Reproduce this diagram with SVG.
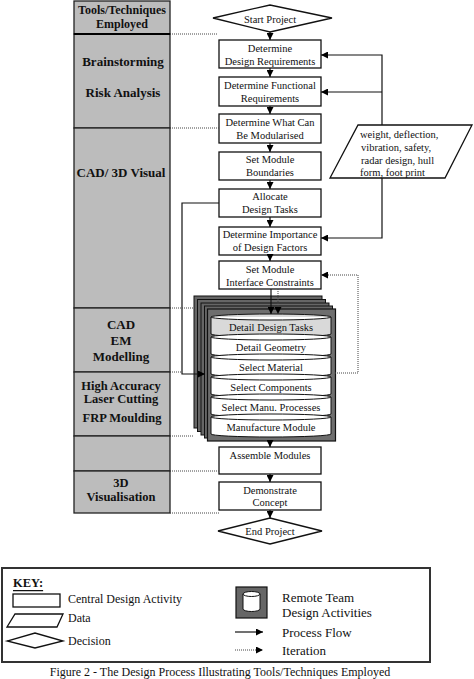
<svg xmlns="http://www.w3.org/2000/svg" width="474" height="679" viewBox="0 0 474 679" font-family="Liberation Serif, DejaVu Serif, serif">
<defs>
<marker id="ah" markerUnits="userSpaceOnUse" markerWidth="7" markerHeight="7" refX="7" refY="3.5" orient="auto"><path d="M0,0 L7,3.5 L0,7 Z" fill="#000"/></marker>
<style>
text{font-family:"Liberation Serif","DejaVu Serif",serif;fill:#111}
.t{font-size:10.5px;text-anchor:middle;dominant-baseline:central}
.b{font-weight:bold;text-anchor:middle;dominant-baseline:central}
.k{font-size:12px;dominant-baseline:central}
.k2{font-size:13px;dominant-baseline:central}
.box{fill:#fff;stroke:#111;stroke-width:1.3}
.col{fill:#bcbcbc;stroke:#222;stroke-width:1.3}
.ln{fill:none;stroke:#111;stroke-width:1.2}
.dot{fill:none;stroke:#444;stroke-width:1;stroke-dasharray:1,1}
.lay{fill:#666;stroke:#111;stroke-width:1}
.disk{fill:#fff;stroke:#111;stroke-width:1}
</style>
</defs>
<rect width="474" height="679" fill="#fff"/>

<g id="tools-column">
<rect class="col" x="74" y="1" width="96" height="33"/>
<rect class="col" x="74" y="34" width="96" height="94"/>
<rect class="col" x="74" y="128" width="96" height="180"/>
<rect class="col" x="74" y="308" width="96" height="64"/>
<rect class="col" x="74" y="372" width="96" height="64"/>
<rect class="col" x="74" y="436" width="96" height="35"/>
<rect class="col" x="74" y="471" width="96" height="42"/>
<line x1="74" y1="34" x2="170" y2="34" stroke="#000" stroke-width="2.2"/>
<text class="b" x="122" y="10" font-size="12">Tools/Techniques</text>
<text class="b" x="122" y="24" font-size="12">Employed</text>
<text class="b" x="123" y="61" font-size="13">Brainstorming</text>
<text class="b" x="123" y="92" font-size="13">Risk Analysis</text>
<text class="b" x="121" y="172" font-size="13">CAD/ 3D Visual</text>
<text class="b" x="121" y="324" font-size="13">CAD</text>
<text class="b" x="121" y="340" font-size="13">EM</text>
<text class="b" x="121" y="356" font-size="13">Modelling</text>
<text class="b" x="121" y="386" font-size="12.5">High Accuracy</text>
<text class="b" x="121" y="399" font-size="12.5">Laser Cutting</text>
<text class="b" x="122" y="418" font-size="12.5">FRP Moulding</text>
<text class="b" x="121" y="483" font-size="12.5">3D</text>
<text class="b" x="121" y="497" font-size="12.5">Visualisation</text>
</g>

<g id="start">
<polygon class="box" points="213,18 270,5 332,18 270,32"/>
<text class="t" x="270" y="19">Start Project</text>
</g>
<g id="n1"><rect class="box" x="219" y="40" width="102" height="28"/>
<text class="t" x="270" y="48">Determine</text><text class="t" x="270" y="61">Design Requirements</text></g>
<g id="n2"><rect class="box" x="219" y="77" width="102" height="29"/>
<text class="t" x="270" y="85">Determine Functional</text><text class="t" x="270" y="98">Requirements</text></g>
<g id="n3"><rect class="box" x="219" y="114" width="102" height="29"/>
<text class="t" x="270" y="122">Determine What Can</text><text class="t" x="270" y="135">Be Modularised</text></g>
<g id="n4"><rect class="box" x="219" y="152" width="102" height="28"/>
<text class="t" x="270" y="159">Set Module</text><text class="t" x="270" y="172">Boundaries</text></g>
<g id="n5"><rect class="box" x="219" y="189" width="102" height="28"/>
<text class="t" x="270" y="196">Allocate</text><text class="t" x="270" y="209">Design Tasks</text></g>
<g id="n6"><rect class="box" x="219" y="227" width="102" height="28"/>
<text class="t" x="270" y="234">Determine Importance</text><text class="t" x="270" y="247">of Design Factors</text></g>
<g id="n7"><rect class="box" x="219" y="261" width="102" height="28"/>
<text class="t" x="270" y="269">Set Module</text><text class="t" x="270" y="282">Interface Constraints</text></g>

<g id="data">
<polygon class="box" points="358,125 472,125 445,178 330,178"/>
<text class="t" x="360" y="134" style="text-anchor:start">weight, deflection,</text>
<text class="t" x="361" y="147" style="text-anchor:start">vibration, safety,</text>
<text class="t" x="361" y="160" style="text-anchor:start">radar design, hull</text>
<text class="t" x="360" y="172" style="text-anchor:start">form, foot print</text>
</g>

<g id="remote-stack">
<rect class="lay" x="194" y="296" width="128" height="132"/>
<rect class="lay" x="197.5" y="299.5" width="128" height="132"/>
<rect class="lay" x="201" y="303" width="128" height="132"/>
<rect class="lay" x="204.5" y="306" width="128" height="132"/>
<rect x="207.5" y="309" width="128" height="132" fill="#6e6e6e" stroke="#111" stroke-width="1.2"/>
<path class="disk" d="M211,317 V334 A60,3 0 0 0 331,334 V317 A60,3 0 0 0 211,317 Z" style="fill:#d9d9d9"/>
<path class="disk" d="M211,317 A60,3 0 0 0 331,317"/>
<path class="disk" d="M211,337 V354 A60,3 0 0 0 331,354 V337 A60,3 0 0 0 211,337 Z"/>
<path class="disk" d="M211,337 A60,3 0 0 0 331,337"/>
<path class="disk" d="M211,357 V374 A60,3 0 0 0 331,374 V357 A60,3 0 0 0 211,357 Z"/>
<path class="disk" d="M211,357 A60,3 0 0 0 331,357"/>
<path class="disk" d="M211,377 V394 A60,3 0 0 0 331,394 V377 A60,3 0 0 0 211,377 Z"/>
<path class="disk" d="M211,377 A60,3 0 0 0 331,377"/>
<path class="disk" d="M211,397 V414 A60,3 0 0 0 331,414 V397 A60,3 0 0 0 211,397 Z"/>
<path class="disk" d="M211,397 A60,3 0 0 0 331,397"/>
<path class="disk" d="M211,417 V434 A60,3 0 0 0 331,434 V417 A60,3 0 0 0 211,417 Z"/>
<path class="disk" d="M211,417 A60,3 0 0 0 331,417"/>
<text class="t" x="271" y="327">Detail Design Tasks</text>
<text class="t" x="271" y="347">Detail Geometry</text>
<text class="t" x="271" y="367">Select Material</text>
<text class="t" x="271" y="387">Select Components</text>
<text class="t" x="271" y="407">Select Manu. Processes</text>
<text class="t" x="271" y="427">Manufacture Module</text>
</g>

<g id="n8"><rect class="box" x="219" y="447" width="102" height="27"/>
<text class="t" x="270" y="455">Assemble Modules</text></g>
<g id="n9"><rect class="box" x="219" y="482" width="102" height="28"/>
<text class="t" x="270" y="490">Demonstrate</text><text class="t" x="270" y="502">Concept</text></g>
<g id="end">
<polygon class="box" points="218,531 270,518 322,531 270,544"/>
<text class="t" x="270" y="531">End Project</text>
</g>

<g id="connectors">
<line class="ln" x1="270" y1="32" x2="270" y2="40" marker-end="url(#ah)"/>
<line class="ln" x1="270" y1="68" x2="270" y2="77" marker-end="url(#ah)"/>
<line class="ln" x1="270" y1="106" x2="270" y2="114" marker-end="url(#ah)"/>
<line class="ln" x1="270" y1="143" x2="270" y2="152" marker-end="url(#ah)"/>
<line class="ln" x1="270" y1="180" x2="270" y2="189" marker-end="url(#ah)"/>
<line class="ln" x1="270" y1="217" x2="270" y2="227" marker-end="url(#ah)"/>
<line class="ln" x1="270" y1="255" x2="270" y2="261" marker-end="url(#ah)"/>
<line class="ln" x1="271" y1="289" x2="271" y2="314" marker-end="url(#ah)"/>
<line class="dot" x1="278" y1="289" x2="278" y2="314" marker-end="url(#ah)"/>
<line class="ln" x1="270" y1="441" x2="270" y2="447" marker-end="url(#ah)"/>
<line class="ln" x1="270" y1="474" x2="270" y2="482" marker-end="url(#ah)"/>
<line class="ln" x1="270" y1="510" x2="270" y2="518" marker-end="url(#ah)"/>
<polyline class="ln" points="382,125 382,55 321,55" marker-end="url(#ah)"/>
<line class="ln" x1="382" y1="92" x2="321" y2="92" marker-end="url(#ah)"/>
<polyline class="ln" points="382,178 382,238 321,238" marker-end="url(#ah)"/>
<polyline class="ln" points="219,203 182,203 182,374 205,374" marker-end="url(#ah)"/>
<polyline class="dot" points="335,373 358,373 358,275 321,275" marker-end="url(#ah)"/>
<line class="dot" x1="170" y1="34" x2="217" y2="34"/>
<line class="dot" x1="170" y1="128" x2="219" y2="128"/>
<line class="dot" x1="170" y1="308" x2="194" y2="308"/>
<line class="dot" x1="170" y1="372" x2="182" y2="372"/>
<line class="dot" x1="170" y1="436" x2="194" y2="436"/>
<line class="dot" x1="170" y1="471" x2="219" y2="471"/>
<line class="dot" x1="170" y1="513" x2="219" y2="513"/>
</g>

<g id="key">
<rect x="2" y="568" width="428" height="94" fill="#fff" stroke="#333" stroke-width="2"/>
<text x="13" y="583" font-size="12.5" font-weight="bold" text-decoration="underline" dominant-baseline="central">KEY:</text>
<rect class="box" x="13" y="594" width="47" height="13"/>
<text class="k" x="68" y="599">Central Design Activity</text>
<polygon class="box" points="15,614 63,614 57,627 7,627"/>
<text class="k" x="68" y="618">Data</text>
<polygon class="box" points="7,641 35,633 63,641 35,648"/>
<text class="k" x="68" y="641">Decision</text>
<rect x="236" y="587" width="31" height="31" fill="#666" stroke="#111" stroke-width="1.2"/>
<path class="disk" d="M243,594 V609 A8.5,2.5 0 0 0 260,609 V594 A8.5,2.5 0 0 0 243,594 Z"/>
<path class="disk" d="M243,594 A8.5,2.5 0 0 0 260,594"/>
<text class="k2" x="282" y="597">Remote Team</text>
<text class="k2" x="282" y="612">Design Activities</text>
<line class="ln" x1="235" y1="632" x2="263" y2="632" marker-end="url(#ah)"/>
<text class="k2" x="282" y="632">Process Flow</text>
<line class="dot" x1="235" y1="650" x2="263" y2="650" marker-end="url(#ah)"/>
<text class="k2" x="282" y="650">Iteration</text>
</g>

<text x="220" y="676" font-size="12" text-anchor="middle">Figure 2 - The Design Process Illustrating Tools/Techniques Employed</text>
</svg>
